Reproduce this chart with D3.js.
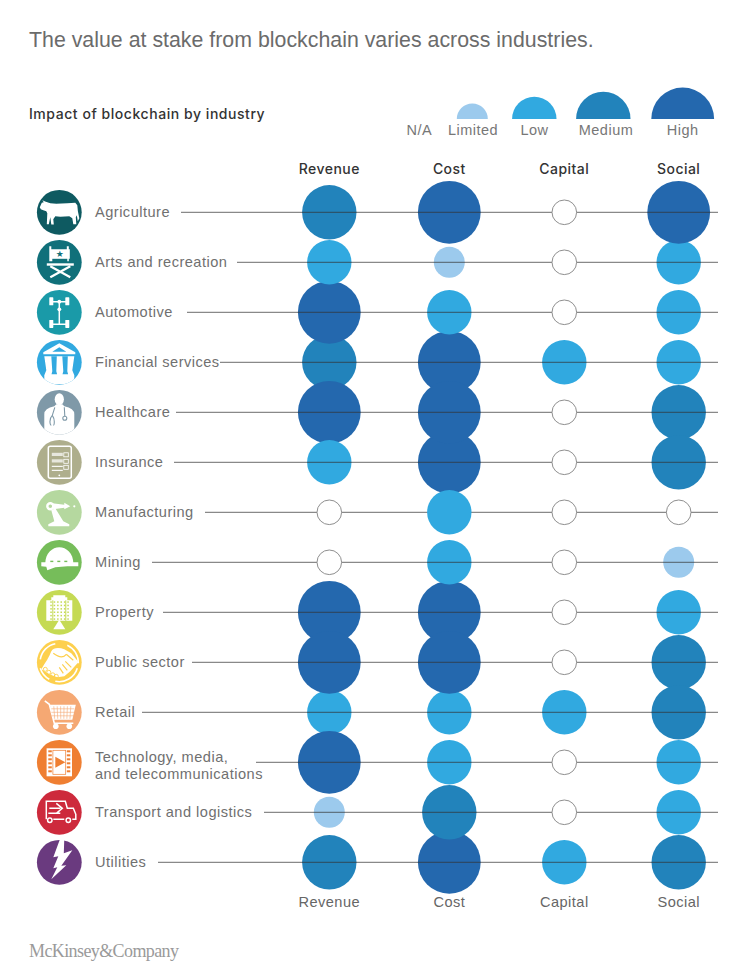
<!DOCTYPE html>
<html>
<head>
<meta charset="utf-8">
<title>Impact of blockchain by industry</title>
<script src="https://cdnjs.cloudflare.com/ajax/libs/d3/7.8.5/d3.min.js"></script>
<style>
  html, body { margin: 0; padding: 0; background: #fff; }
  svg { display: block; }
  text { font-family: "Liberation Sans", Arial, sans-serif; }
</style>
</head>
<body>
<svg id="chart" width="735" height="972"></svg>
<script>
// Chart content
const industries = ["Agriculture", "Arts and recreation", "Automotive", "Financial services",
  "Healthcare", "Insurance", "Manufacturing", "Mining", "Property", "Public sector", "Retail",
  "Technology, media,\nand telecommunications", "Transport and logistics", "Utilities"];
const impactColumns = ["Revenue", "Cost", "Capital", "Social"];
const impactLevels = ["N/A", "Limited", "Low", "Medium", "High"];

const revenue = ["Medium", "Low", "High", "Medium", "High", "Low", "N/A", "N/A", "High", "High", "Low", "High", "Limited", "Medium"];
const cost = ["High", "Limited", "Low", "High", "High", "High", "Low", "Low", "High", "High", "Low", "Low", "Medium", "High"];
const capital = ["N/A", "N/A", "N/A", "Low", "N/A", "N/A", "N/A", "N/A", "N/A", "N/A", "Low", "N/A", "N/A", "Low"];
const social = ["High", "Low", "Low", "Low", "Medium", "Medium", "N/A", "Limited", "Low", "Medium", "Medium", "Low", "Low", "Medium"];
const ratings = { Revenue: revenue, Cost: cost, Capital: capital, Social: social };

// Layout and style
const levelColor = d3.scaleOrdinal(impactLevels, ["#fff", "#9ccaed", "#31a9e0", "#2283bb", "#2468ae"]);
const levelRadius = d3.scaleOrdinal(impactLevels, [12.3, 15.5, 22.2, 27.2, 31.4]);
const x = d3.scaleOrdinal(impactColumns, [329.3, 449.3, 564.3, 678.7]);
const y = d3.scalePoint(industries, [212.3, 862.3]);
const legendX = d3.scaleOrdinal(impactLevels, [419.3, 472.3, 534.3, 603.3, 682.7]);
const legendLabelX = d3.scaleOrdinal(impactLevels, [419.3, 473, 534.5, 606, 682.7]);
const leaderStart = [181, 237, 187, 220, 176, 174, 205, 152, 163, 192, 142, 256, 264, 158];
const leaderEnd = 718;
const iconX = 59.3, iconR = 22.4;
const iconColors = ["#0e5a61", "#10707a", "#1a9aa8", "#31a9e0", "#7f99a8", "#aeae8c", "#b5d89f",
  "#76bd5a", "#c5da54", "#fdd04e", "#f5a873", "#ef7f32", "#cd2a3c", "#6a3a7f"];
// Stacking order inside each column, where neighbouring discs overlap
const stackOrder = {
  Revenue: [3, 10, 0, 2, 1, 4, 5, 6, 7, 8, 9, 11, 12, 13],
  Cost: [3, 5, 8, 10, 13, 0, 1, 2, 4, 7, 9, 11, 12],
  Capital: d3.range(14),
  Social: [1, 0, 2, 3, 4, 5, 6, 7, 8, 9, 10, 11, 12, 13]
};

const svg = d3.select("#chart");
const label = (sel, txt, px, py, o) => sel.append("text").text(txt).attr("x", px).attr("y", py)
  .attr("font-size", o.size).attr("fill", o.fill).attr("text-anchor", o.anchor || "start")
  .attr("letter-spacing", o.spacing || 0).attr("font-weight", o.weight || 400)
  .style("font-family", o.family || null);

label(svg, "The value at stake from blockchain varies across industries.", 29, 47, { size: 21.3, fill: "#6b6b6b", spacing: 0.02 });
label(svg, "Impact of blockchain by industry", 29, 119, { size: 14, fill: "#333", spacing: 0.55, family: "Inter", weight: 500 });

// Legend: half discs standing on a common baseline
const legendBase = 119;
const halfDisc = d3.arc().innerRadius(0).startAngle(-Math.PI / 2).endAngle(Math.PI / 2);
svg.append("g").selectAll("path").data(impactLevels.filter(d => d !== "N/A")).join("path")
  .attr("transform", d => `translate(${legendX(d)},${legendBase})`)
  .attr("d", d => halfDisc({ outerRadius: levelRadius(d) }))
  .attr("fill", d => levelColor(d));
impactLevels.forEach(d => label(svg, d, legendLabelX(d), 135, { size: 14.5, fill: "#777", anchor: "middle", spacing: 0.5 }));

// Column headings, repeated under the table
impactColumns.forEach(c => {
  label(svg, c, x(c), 174, { size: 14, fill: "#333", anchor: "middle", spacing: 0.45, family: "Inter", weight: 500 });
  label(svg, c, x(c), 907, { size: 14.6, fill: "#666", anchor: "middle", spacing: 0.45 });
});

// Discs of rated cells
const cells = impactColumns.flatMap(c => stackOrder[c].map(i => ({ column: c, row: i, level: ratings[c][i] })));
const rated = cells.filter(d => d.level !== "N/A");
const none = cells.filter(d => d.level === "N/A");
const disc = (g, data) => g.selectAll("circle").data(data).join("circle")
  .attr("cx", d => x(d.column)).attr("cy", d => y(industries[d.row]))
  .attr("r", d => levelRadius(d.level)).attr("fill", d => levelColor(d.level));

disc(svg.append("g"), rated);

// Leader lines run across the rated discs
svg.append("g").selectAll("line").data(industries).join("line")
  .attr("x1", (d, i) => leaderStart[i]).attr("x2", leaderEnd)
  .attr("y1", d => y(d)).attr("y2", d => y(d))
  .attr("stroke", "#333").attr("stroke-opacity", 0.72).attr("stroke-width", 1);

// Empty N/A rings, and the one disc that sits over its line
disc(svg.append("g"), none).attr("stroke", "#8f8f8f").attr("stroke-width", 1);
disc(svg.append("g"), [{ column: "Cost", row: 6, level: cost[6] }]);

// Industry names
industries.forEach(d => {
  const parts = d.split("\n");
  const y0 = y(d) + 5 - (parts.length > 1 ? 5.5 : 0);
  parts.forEach((p, i) => label(svg, p, 95, y0 + i * 17.5, { size: 14.6, fill: "#707070", spacing: 0.48 }));
});

// Industry badges: a coloured disc with a white pictogram, clipped to the disc
const W = "#fff";
const badgeArt = [
  // cow
  (g, c) => {
    g.append("path").attr("fill", W).attr("d", "M-19.5,-5 L-17.5,-9.5 L-15.5,-10 L-17,-12 L-13.5,-10.5 L-9,-9 L-3,-8.5 L8,-9 L16,-9.5 L18,-7 L18.6,-1 L20,6 L18.5,9 L17.5,3 L16.5,5 L17,12 L14,12 L13,6 L10,4 L1,4.5 L-4,4 L-6,7 L-5.5,12.3 L-8,12.3 L-9,5 L-10.5,12 L-12.5,12 L-12,1 L-13,-1 L-16,-2 L-18.5,-3 Z");
  },
  // director's chair
  (g, c) => {
    g.append("path").attr("fill", W).attr("d", "M-10,-16 h2 v3 h15.5 v-3 h2 v3 h1 v9.5 h-1 v2.5 h-19.5 v-2.5 h-0 Z");
    g.append("rect").attr("x", -7).attr("y", -3.5).attr("width", 15).attr("height", 3.5).attr("fill", c);
    g.append("text").text("★").attr("x", 0.6).attr("y", -5.5).attr("text-anchor", "middle").attr("font-size", 9).attr("fill", c).style("font-family", "DejaVu Sans");
    g.append("rect").attr("x", -12.5).attr("y", 1).attr("width", 27).attr("height", 2.4).attr("fill", W);
    g.append("path").attr("stroke", W).attr("stroke-width", 2.2).attr("fill", "none").attr("d", "M-9,4 L11,15 M11,4 L-9,15");
  },
  // axle layout
  (g, c) => {
    g.append("path").attr("stroke", W).attr("stroke-width", 1.5).attr("fill", "none").attr("d", "M-7,-10.6 H7 M-7,12 H7 M0,-10.6 V12");
    [[-10, -15], [6, -15], [-10, 7.6], [6, 7.6]].forEach(p => g.append("rect").attr("x", p[0]).attr("y", p[1]).attr("width", 4).attr("height", 8).attr("rx", 0.6).attr("fill", W));
    [-10.6, -3].forEach(v => g.append("circle").attr("cy", v).attr("r", 1.9).attr("fill", W));
  },
  // bank
  (g, c) => {
    g.append("path").attr("fill", W).attr("d", "M-16,-10 L0,-19 L16,-10 V-8 H-16 Z");
    g.append("path").attr("fill", c).attr("d", "M-7,-10.5 L0,-15 L7,-10.5 Z");
    g.append("path").attr("fill", W).attr("d", "M-15,-6 H15 L13,8 L15,13 V22 H-15 V13 L-13,8 Z");
    g.append("path").attr("fill", c).attr("d", "M-8,-6 H-2.5 L-3,9 L-2.2,12 H-7.8 L-7,9 Z M3,-6 H8.5 L8,9 L8.8,12 H3.2 L4,9 Z");
  },
  // doctor with stethoscope
  (g, c) => {
    g.append("ellipse").attr("cy", -13).attr("rx", 4.6).attr("ry", 6).attr("fill", W);
    g.append("path").attr("fill", W).attr("d", "M-15,24 V2 Q-15,-4 -5,-6 L-3,-8 H3 L5,-6 Q15,-4 15,2 V24 Z");
    g.append("path").attr("stroke", c).attr("stroke-width", 1.1).attr("fill", "none").attr("d", "M-4.5,-5 L-7,3 M-7,3 C-11,7 -9,13 -8,13 M-7,3 C-4,7 -5,13 -6,13 M5,-5 L5.5,4");
    g.append("circle").attr("cx", 5.5).attr("cy", 6).attr("r", 2).attr("fill", "none").attr("stroke", c).attr("stroke-width", 1.1);
  },
  // tablet with a checklist
  (g, c) => {
    g.append("rect").attr("x", -11).attr("y", -16).attr("width", 23).attr("height", 32).attr("rx", 2).attr("fill", "none").attr("stroke", W).attr("stroke-width", 1.5);
    [-9.5, -3, 3.5, 7.5].forEach(v => g.append("rect").attr("x", -7.5).attr("y", v).attr("width", 11).attr("height", v < 3 ? 3.2 : 1.1).attr("fill", W).attr("opacity", v < 3 ? 0.7 : 1));
    [-9.5, -3, 3].forEach(v => g.append("rect").attr("x", 4.5).attr("y", v).attr("width", 4.5).attr("height", 4).attr("fill", "none").attr("stroke", W).attr("stroke-width", 0.8));
    g.append("circle").attr("cy", 13).attr("r", 0.9).attr("fill", W);
  },
  // robot arm
  (g, c) => {
    g.append("path").attr("fill", W).attr("d", "M-11,14 L-11,12 L-5,9 L-8,-2 L-4,-4 L4,9 L10,12 L10,14 Z");
    g.append("circle").attr("cx", -9).attr("cy", -6).attr("r", 3).attr("fill", "none").attr("stroke", W).attr("stroke-width", 2.4);
    g.append("path").attr("fill", W).attr("d", "M-7,-9 L5,-7.5 L5,-9.5 L11,-6 L5,-3 L5,-4.5 L-6,-3 Z");
    g.append("circle").attr("cx", 15).attr("cy", -6).attr("r", 1.1).attr("fill", W);
  },
  // hard hat
  (g, c) => {
    g.append("path").attr("fill", W).attr("d", "M-14,1 C-14,-9 -7,-15 0,-15 C7,-15 14,-9 14,1 Z");
    g.append("path").attr("fill", W).attr("d", "M-18,0 L19,0 L19,4 L8,4 L-4,5 L-12,8 L-13,4.5 L-18,4 Z");
    [-9, -2, 5].forEach(v => g.append("rect").attr("x", v).attr("y", -1.6).attr("width", 3).attr("height", 1.4).attr("fill", c));
  },
  // office tower
  (g, c) => {
    g.append("path").attr("fill", W).attr("d", "M-6,-17 H6 V-15 H8 V-12 H13 V8.5 H-13 V-12 H-8 V-15 H-6 Z");
    d3.range(-9, 9, 3.4).forEach(px => d3.range(-11, 7, 3.4).forEach(py =>
      g.append("rect").attr("x", px).attr("y", py).attr("width", 1.5).attr("height", 1.5).attr("fill", c)));
    g.append("path").attr("fill", W).attr("d", "M0,7.5 L6,17 H-6 Z");
    g.append("path").attr("stroke", c).attr("stroke-width", 1).attr("d", "M-6.5,-12 V8.5 M6.5,-12 V8.5");
  },
  // handshake
  (g, c) => {
    g.append("path").attr("fill", "none").attr("stroke", W).attr("stroke-width", 1.6).attr("d", "M-19,-3 A19,19 0 0 1 -4,-18.6 M8,-17 A19,19 0 0 1 19,1 M18,6 A19,19 0 0 1 -4,19 M-10,17 A19,19 0 0 1 -19,6");
    g.append("path").attr("fill", W).attr("d", "M-18,7 C-14,0 -10,-5 -8,-11 C-6,-15 0,-15 5,-13 L12,-9 C15,-5 18,-2 19,0 L11,9 L5,14 L-2,15 L-10,12 Z");
    g.append("path").attr("fill", "none").attr("stroke", c).attr("stroke-width", 1.2).attr("d", "M-6,-9 C-2,-6 3,-3 7,-8 M7,-8 L14,-2 M6,-1 L12,5 M3,2 L8,8 M0,5 L4,11");
    [[-14, 7], [-10.5, 10], [-6.5, 12.5], [-3, 14]].forEach(p => g.append("circle").attr("cx", p[0]).attr("cy", p[1]).attr("r", 2).attr("fill", "none").attr("stroke", c).attr("stroke-width", 0.9));
  },
  // shopping cart
  (g, c) => {
    g.append("path").attr("fill", "none").attr("stroke", W).attr("stroke-width", 1.6).attr("d", "M-14.5,-11.5 L-10,-8 L-5,11 H14");
    g.append("path").attr("fill", W).attr("d", "M-9.5,-7.5 H16.5 L13,7.5 H-5.5 Z");
    d3.range(-5.5, 14, 3.4).forEach(v => g.append("path").attr("stroke", c).attr("stroke-width", 0.6).attr("d", `M${v},-6 L${v - 0.5 * (v - 3) * 0.2},6.5`));
    [-3.5, 0, 3.5].forEach(v => g.append("path").attr("stroke", c).attr("stroke-width", 0.6).attr("d", `M-8,${v} H15`));
    [-3.5, 10].forEach(v => g.append("circle").attr("cx", v).attr("cy", 14).attr("r", 2.8).attr("fill", W));
  },
  // film strip with a play button
  (g, c) => {
    g.append("rect").attr("x", -12.7).attr("y", -14).attr("width", 25.4).attr("height", 28).attr("fill", W);
    g.append("rect").attr("x", -6.4).attr("y", -12).attr("width", 12.8).attr("height", 24).attr("fill", W).attr("stroke", c).attr("stroke-width", 0.7);
    [-11, 7.5].forEach(px => d3.range(-12, 12, 4).forEach(py =>
      g.append("rect").attr("x", px).attr("y", py).attr("width", 3.5).attr("height", 2).attr("fill", c)));
    g.append("path").attr("fill", c).attr("d", "M-4,-5.5 L6,0 L-4,5.5 Z");
  },
  // delivery van with an arrow
  (g, c) => {
    g.append("path").attr("fill", "none").attr("stroke", W).attr("stroke-width", 1.5).attr("d", "M-13,7 V-11 H6 L8,-4 H14 L16.5,2 V7 H13 M5,7 H-6 M-10,-4 H1 M-3,-9 L3,-4 L-3,1 M-11,1 H1");
    [-9.5, 9].forEach(v => g.append("circle").attr("cx", v).attr("cy", 8).attr("r", 2.2).attr("fill", c).attr("stroke", W).attr("stroke-width", 1.5));
  },
  // lightning bolt, breaking out of the disc
  (g, c) => {
    g.append("path").attr("fill", W).attr("d", "M1,-24 L-6,-5 L-1,-6 L-6,6 L-2,5 L-8,17 L7,3 L2,3.5 L13,-12 L4.5,-9 L5,-24 Z");
  }
];

const badges = svg.append("g").selectAll("g").data(industries).join("g")
  .attr("transform", d => `translate(${iconX},${y(d)})`);
badges.each(function (d, i) {
  const g = d3.select(this);
  const id = `badge-${i}`;
  g.append("clipPath").attr("id", id).append("circle").attr("r", iconR);
  g.append("circle").attr("r", iconR).attr("fill", iconColors[i]);
  badgeArt[i](g.append("g").attr("clip-path", i === 13 ? null : `url(#${id})`), iconColors[i]);
});

label(svg, "McKinsey&Company", 29, 956.5, { size: 18, fill: "#9a9a9a", family: "Liberation Serif", spacing: -0.6 });
</script>
</body>
</html>
